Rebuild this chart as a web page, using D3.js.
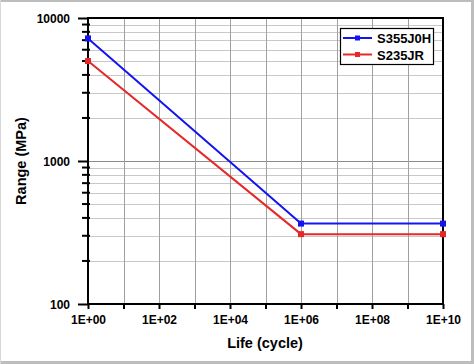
<!DOCTYPE html>
<html><head><meta charset="utf-8">
<script src="https://cdn.jsdelivr.net/npm/d3@7"></script>
<style>html,body{margin:0;padding:0;background:#fff;}svg{display:block;}</style>
</head><body>
<script>
const seriesNames = ["S355J0H", "S235JR"];
const seriesColors = ["#1414f0", "#e62828"];
const lifeCycles = [1, 1e6, 1e10];
const s355Values = [7200, 365, 365];
const s235Values = [5000, 308, 308];
const xTickLabels = ["1E+00", "1E+02", "1E+04", "1E+06", "1E+08", "1E+10"];
const yTickLabels = ["100", "1000", "10000"];

const W = 474, H = 364;
const m = {l: 88, r: 443, t: 18, b: 304};
const FONT = "Liberation Sans, Arial, sans-serif";
const svg = d3.select("body").append("svg").attr("width", W).attr("height", H);
svg.append("rect").attr("width", W).attr("height", H).attr("fill", "#fff");

const x = d3.scaleLog().domain([1, 1e10]).range([m.l, m.r]);
const y = d3.scaleLog().domain([100, 10000]).range([m.b, m.t]);

// grid
const decadesX = d3.range(0, 11).map(i => Math.pow(10, i));
const minorY = [];
[100, 1000].forEach(b => { for (let k = 2; k <= 9; k++) minorY.push(b * k); });
const g = svg.append("g");
g.selectAll(".hm").data(minorY).join("line")
  .attr("x1", m.l).attr("x2", m.r).attr("y1", d => Math.round(y(d)) + 0.5).attr("y2", d => Math.round(y(d)) + 0.5)
  .attr("stroke", "#c8c8c8").attr("stroke-width", 1);
g.append("line").attr("x1", m.l).attr("x2", m.r).attr("y1", Math.round(y(1000)) + 0.5).attr("y2", Math.round(y(1000)) + 0.5)
  .attr("stroke", "#8c8c8c").attr("stroke-width", 1);
g.selectAll(".vg").data(decadesX.slice(1, -1)).join("line")
  .attr("y1", m.t).attr("y2", m.b).attr("x1", d => Math.round(x(d)) + 0.5).attr("x2", d => Math.round(x(d)) + 0.5)
  .attr("stroke", "#a0a0a0").attr("stroke-width", 1);

// frame
svg.append("rect").attr("x", m.l).attr("y", m.t).attr("width", m.r - m.l).attr("height", m.b - m.t)
  .attr("fill", "none").attr("stroke", "#000").attr("stroke-width", 2);

// x axis ticks & labels
const xAxis = d3.axisBottom(x).tickValues(decadesX).tickSize(5)
  .tickFormat(d => { const e = Math.round(Math.log10(d)); return e % 2 === 0 ? xTickLabels[e / 2] : ""; });
const xg = svg.append("g").attr("transform", `translate(0,${m.b})`).call(xAxis);
xg.select(".domain").remove();
xg.selectAll(".tick line").attr("stroke", "#000").attr("stroke-width", 2);
xg.selectAll(".tick text").attr("dy", 0).attr("y", 20)
  .style("font-family", FONT).style("font-weight", "bold").style("font-size", "12px").attr("fill", "#000");

// y axis
const yMajor = [100, 1000, 10000];
const ya = d3.axisLeft(y).tickValues(yMajor).tickSize(10).tickFormat((d, i) => yTickLabels[i]);
const yg = svg.append("g").attr("transform", `translate(${m.l},0)`).call(ya);
yg.select(".domain").remove();
yg.selectAll(".tick line").attr("stroke", "#000").attr("stroke-width", 2);
yg.selectAll(".tick text").attr("x", -18).attr("dy", "0.35em")
  .style("font-family", FONT).style("font-weight", "bold").style("font-size", "12px").attr("fill", "#000");
yg.selectAll(".mt").data(minorY).join("line")
  .attr("x1", -6).attr("x2", 2).attr("y1", d => y(d)).attr("y2", d => y(d))
  .attr("stroke", "#000").attr("stroke-width", 2);

// series
const allValues = [s355Values, s235Values];
const line = d3.line().x(d => x(d[0])).y(d => y(d[1]));
allValues.forEach((vals, si) => {
  const pts = lifeCycles.map((c, i) => [c, vals[i]]);
  svg.append("path").datum(pts).attr("d", line).attr("fill", "none")
    .attr("stroke", seriesColors[si]).attr("stroke-width", 2);
  svg.selectAll(".mk" + si).data(pts).join("rect")
    .attr("x", d => x(d[0]) - 3).attr("y", d => y(d[1]) - 3).attr("width", 6).attr("height", 6)
    .attr("fill", seriesColors[si]);
});

// legend
const lg = svg.append("g");
lg.append("rect").attr("x", 340.5).attr("y", 28.5).attr("width", 93).attr("height", 36)
  .attr("fill", "#fff").attr("stroke", "#000").attr("stroke-width", 1.2);
seriesNames.forEach((n, i) => {
  const yy = 38 + i * 16.5;
  lg.append("line").attr("x1", 343).attr("x2", 372).attr("y1", yy).attr("y2", yy)
    .attr("stroke", seriesColors[i]).attr("stroke-width", 2);
  lg.append("rect").attr("x", 355).attr("y", yy - 2.5).attr("width", 5).attr("height", 5).attr("fill", seriesColors[i]);
  lg.append("text").attr("x", 377).attr("y", yy + 5).text(n)
    .style("font-family", FONT).style("font-weight", "bold").style("font-size", "13px");
});

// axis titles
svg.append("text").attr("x", 265).attr("y", 348).attr("text-anchor", "middle").text("Life (cycle)")
  .style("font-family", FONT).style("font-weight", "bold").style("font-size", "14.5px");
svg.append("text").attr("transform", "translate(26,161) rotate(-90)").attr("text-anchor", "middle").text("Range (MPa)")
  .style("font-family", FONT).style("font-weight", "bold").style("font-size", "14.5px");

// outer gray border
svg.append("rect").attr("x", 0).attr("y", 0).attr("width", W).attr("height", 2).attr("fill", "#bdbdbd");
svg.append("rect").attr("x", W - 3).attr("y", 0).attr("width", 3).attr("height", H).attr("fill", "#bdbdbd");
svg.append("rect").attr("x", 0).attr("y", H - 3).attr("width", W).attr("height", 3).attr("fill", "#bdbdbd");
svg.append("rect").attr("x", 0).attr("y", 0).attr("width", 1).attr("height", H).attr("fill", "#d8d8d8");
</script>
</body></html>
